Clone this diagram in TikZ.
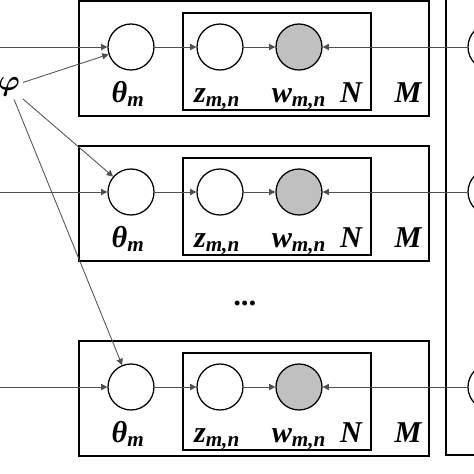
\documentclass[tikz,border=0pt]{standalone}
\usepackage{amsmath}
\usepackage{fontspec}
\setmainfont{Liberation Serif}
\usetikzlibrary{arrows.meta}
\definecolor{obsgray}{RGB}{192,192,192}
\definecolor{edgegray}{RGB}{80,80,80}

\begin{document}
\begin{tikzpicture}[x=0.025cm, y=-0.025cm,
  var/.style={draw, circle, line width=0.9pt, minimum size=1.15cm, inner sep=0pt},
  obs/.style={var, fill=obsgray},
  plate/.style={draw, rectangle, line width=1.2pt, inner sep=0pt},
  lbl/.style={font=\fontsize{21.5}{23}\selectfont\bfseries\itshape, inner sep=0pt, anchor=base},
  edge/.style={-{Triangle[length=4.5pt,width=4.5pt]}, line width=0.6pt, draw=edgegray}]

\useasboundingbox (0,0) rectangle (474,474);
\clip (0,0) rectangle (474,474);

% right plate
\node[plate, minimum width=2.25cm, minimum height=11.875cm] (K) at (491, 217.5) {};

% first document
\node[plate, minimum width=8.75cm, minimum height=2.875cm] (M1) at (254, 58.5) {};
\node[plate, minimum width=4.7cm, minimum height=2.425cm] (N1) at (277, 61.5) {};
\node[var] (theta1) at (131, 47) {};
\node[var] (z1) at (220, 47) {};
\node[obs] (w1) at (299, 47) {};
\node[var] (beta1) at (491, 47) {};
\node[lbl] (ltheta1) at (128, 102) {θ\textsubscript{m}};
\node[lbl] (lz1) at (217, 102) {z\textsubscript{m,n}};
\node[lbl] (lw1) at (299, 102) {w\textsubscript{m,n}};
\node[lbl] (lN1) at (351, 102) {N};
\node[lbl] (lM1) at (408, 102) {M};
\coordinate (in1) at (0, 47);

% second document
\node[plate, minimum width=8.75cm, minimum height=2.875cm] (M2) at (254, 203.5) {};
\node[plate, minimum width=4.7cm, minimum height=2.425cm] (N2) at (277, 206.5) {};
\node[var] (theta2) at (131, 192) {};
\node[var] (z2) at (220, 192) {};
\node[obs] (w2) at (299, 192) {};
\node[var] (beta2) at (491, 192) {};
\node[lbl] (ltheta2) at (128, 247) {θ\textsubscript{m}};
\node[lbl] (lz2) at (217, 247) {z\textsubscript{m,n}};
\node[lbl] (lw2) at (299, 247) {w\textsubscript{m,n}};
\node[lbl] (lN2) at (351, 247) {N};
\node[lbl] (lM2) at (408, 247) {M};
\coordinate (in2) at (0, 192);

\node[lbl, anchor=center] (dots) at (246, 303) {...};

% last document
\node[plate, minimum width=8.75cm, minimum height=2.875cm] (M3) at (254, 398.5) {};
\node[plate, minimum width=4.7cm, minimum height=2.425cm] (N3) at (277, 401.5) {};
\node[var] (theta3) at (131, 387) {};
\node[var] (z3) at (220, 387) {};
\node[obs] (w3) at (299, 387) {};
\node[var] (beta3) at (491, 387) {};
\node[lbl] (ltheta3) at (128, 442) {θ\textsubscript{m}};
\node[lbl] (lz3) at (217, 442) {z\textsubscript{m,n}};
\node[lbl] (lw3) at (299, 442) {w\textsubscript{m,n}};
\node[lbl] (lN3) at (351, 442) {N};
\node[lbl] (lM3) at (408, 442) {M};
\coordinate (in3) at (0, 387);

\node[lbl, anchor=center, inner sep=2pt] (phi) at (9, 87) {$\boldsymbol{\varphi}$};

\draw[edge] (in1) -- (theta1);
\draw[edge] (theta1) -- (z1);
\draw[edge] (z1) -- (w1);
\draw[edge] (beta1) -- (w1);
\draw[edge] (in2) -- (theta2);
\draw[edge] (theta2) -- (z2);
\draw[edge] (z2) -- (w2);
\draw[edge] (beta2) -- (w2);
\draw[edge] (in3) -- (theta3);
\draw[edge] (theta3) -- (z3);
\draw[edge] (z3) -- (w3);
\draw[edge] (beta3) -- (w3);
\draw[edge] (phi) -- (theta1);
\draw[edge] (phi) -- (theta2);
\draw[edge] (phi) -- (theta3);
\end{tikzpicture}
\end{document}
